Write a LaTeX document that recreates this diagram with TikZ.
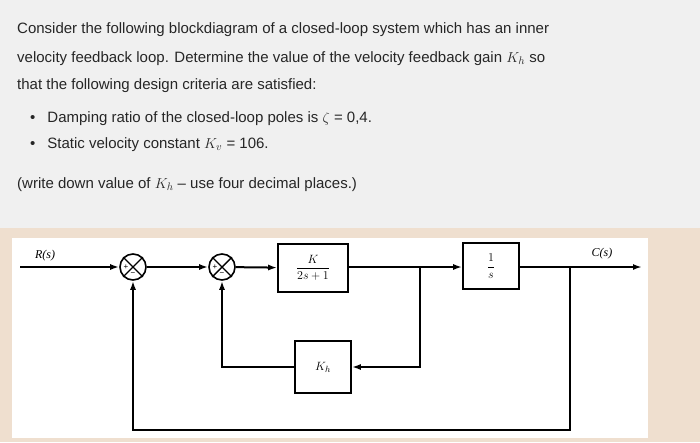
\documentclass[tikz,border=0pt]{standalone}
\usepackage{fontspec}
\setmainfont{Liberation Sans}
\newfontfamily\dfont{Liberation Serif}
\usetikzlibrary{arrows.meta,calc}
\begin{document}
\begin{tikzpicture}[x=1pt,y=-1pt,
  txt/.style={anchor=base west,inner sep=0pt,font=\fontsize{15}{18}\selectfont,text=black!85},
  blk/.style={draw,line width=1.6pt,font=\dfont\fontsize{13}{15}\selectfont\itshape,inner sep=0pt},
  sumc/.style={draw,circle,line width=1.6pt,minimum size=26pt,inner sep=0pt},
  wire/.style={line width=2pt},
  arr/.style={wire,-{Latex[length=9pt,width=6pt]}},
  pm/.style={font=\fontsize{8}{8}\selectfont,inner sep=0pt}]
\useasboundingbox (0,0) rectangle (700,442);
\fill[black!6] (0,0) rectangle (700,442);
\fill[brown!25!white] (0,228) rectangle (700,442);
\fill[white] (12,238) rectangle (648,438);
\node[txt] (l1) at (17,33) {Consider the following blockdiagram of a closed-loop system which has an inner};
\node[txt] (l2) at (17,62) {velocity feedback loop. Determine the value of the velocity feedback gain $K_h$ so};
\node[txt] (l3) at (17,89) {that the following design criteria are satisfied:};
\node[txt] (b1) at (30,122) {•\hspace{12pt}Damping ratio of the closed-loop poles is $\zeta$ = 0,4.};
\node[txt] (b2) at (30,148) {•\hspace{12pt}Static velocity constant $K_v$ = 106.};
\node[txt] (l4) at (17,188) {(write down value of $K_h$ -- use four decimal places.)};
% diagram
\node[font=\dfont\fontsize{12}{14}\selectfont\itshape] (R) at (45,256) {R(s)};
\node[font=\dfont\fontsize{12}{14}\selectfont\itshape] (C) at (602,254) {C(s)};
\coordinate (in) at (20,267);
\node[sumc] (s1) at (133,267) {};
\node[sumc] (s2) at (222,267) {};
\foreach \s in {s1,s2}{
  \draw[line width=1.4pt] (\s.45)--(\s.225) (\s.135)--(\s.315);
  \node[pm] at ($(\s)+(-7,0)$) {+};
  \node[pm] at ($(\s)+(0,7)$) {−};
}
\node[blk,minimum width=70pt,minimum height=48pt] (g) at (313,268) {$\displaystyle\frac{K}{2s+1}$};
\node[blk,minimum width=56pt,minimum height=46pt] (i) at (491,266) {$\displaystyle\frac{1}{s}$};
\node[blk,minimum width=56pt,minimum height=52pt] (kh) at (323,367) {$K_h$};
\coordinate (br1) at (420,267);
\coordinate (br2) at (570,267);
\coordinate (out) at (642,267);
\coordinate (bl) at (128,430);
\draw[arr] (in) -- (s1);
\draw[arr] (s1) -- (s2);
\draw[arr] (s2) -- (g);
\draw[arr] (g.east |- br1) -- (i.west |- br1);
\draw[arr] (i.east |- br2) -- (out);
\draw[arr] (br1) |- (kh.east);
\draw[arr] (kh.west) -| (s2.south);
\draw[arr] (br2) |- (s1 |- bl) -- (s1.south);
\end{tikzpicture}
\end{document}
